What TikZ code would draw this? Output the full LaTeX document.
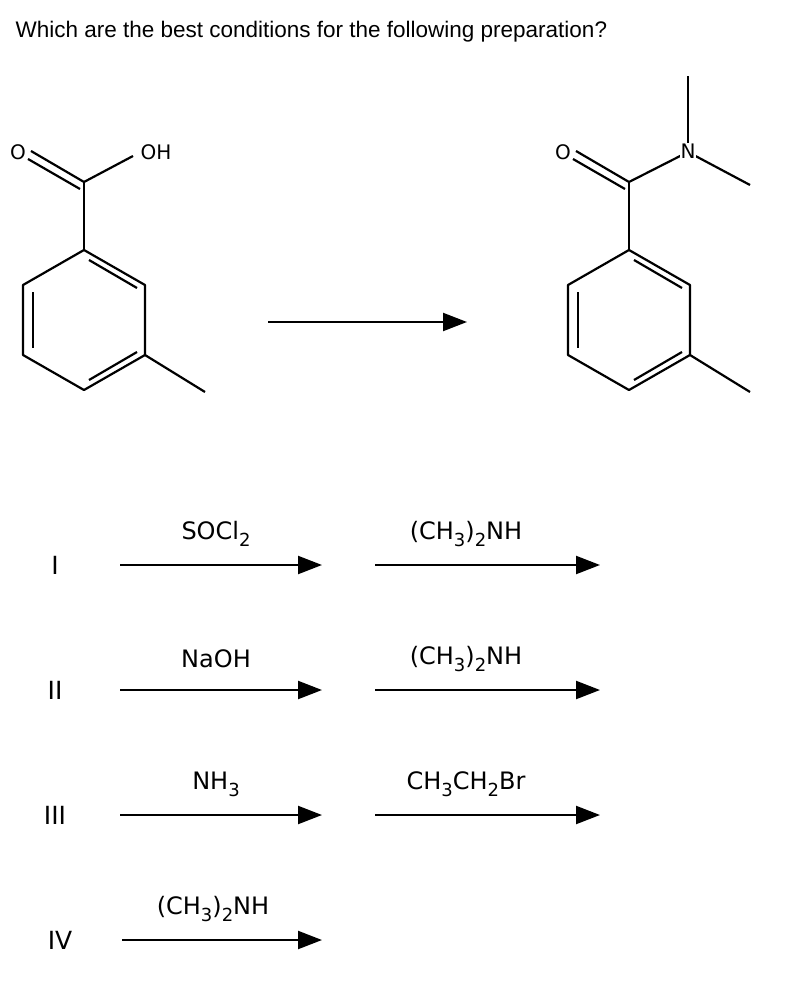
\documentclass[tikz,border=0pt]{standalone}
\usepackage{fontspec}
\setmainfont{Liberation Sans}
\newfontfamily\chem{DejaVu Sans}
\usetikzlibrary{arrows.meta}
\newcommand{\sbs}[1]{\raisebox{-0.3em}{\fontsize{18}{20}\selectfont #1}}
\begin{document}
\begin{tikzpicture}[x=1pt,y=-1pt,
  bond/.style={line width=2.2pt},
  rxn/.style={line width=2.2pt,-{Triangle[length=24pt,width=18pt]}},
  lab/.style={font=\chem\fontsize{24}{28}\selectfont,inner sep=1pt},
  atom/.style={font=\chem\fontsize{20}{24}\selectfont,inner sep=1pt,fill=white},
  num/.style={font=\chem\fontsize{25}{30}\selectfont}]
\useasboundingbox (0,0) rectangle (790,992);
\node[anchor=west,font=\fontsize{22.5}{26}\selectfont] (title) at (12,32) {Which are the best conditions for the following preparation?};
\foreach \dx/\m in {0/a,545/b}{
\begin{scope}[xshift=\dx]
\coordinate (\m1) at (84,250); \coordinate (\m2) at (145,285); \coordinate (\m3) at (145,355);
\coordinate (\m4) at (84,390); \coordinate (\m5) at (23,355); \coordinate (\m6) at (23,285);
\draw[bond,line join=round] (\m1)--(\m2)--(\m3)--(\m4)--(\m5)--(\m6)--cycle;
\draw[bond] (33,292)--(33,348);
\draw[bond] (89,260)--(137,288);
\draw[bond] (89,380)--(137,352);
\draw[bond] (\m3)--(205,392);
\coordinate (\m c) at (84,182);
\draw[bond] (\m1)--(\m c);
\end{scope}}
\draw[bond] (ac)--(31,151);
\draw[bond] (80,189)--(28,159);
\draw[bond] (ac)--(133,156);
\node[atom] (o1) at (18,152) {O};
\node[atom] (oh) at (156,152) {OH};
\draw[bond] (bc)--(576,151);
\draw[bond] (625,189)--(573,159);
\draw[bond] (bc)--(688,152);
\draw[bond] (688,152)--(688,76);
\draw[bond] (688,152)--(750,185);
\node[atom] (o2) at (563,152) {O};
\node[atom] (n) at (688,151) {N};
\draw[rxn] (268,322) coordinate (r0) -- (467,322) coordinate (r1);
\foreach \y/\r/\a/\b in {565/I/SOCl\sbs{2}/(CH\sbs{3})\sbs{2}NH,690/II/NaOH/(CH\sbs{3})\sbs{2}NH,815/III/NH\sbs{3}/CH\sbs{3}CH\sbs{2}Br}{
\node[num] (n\r) at (55,\y) {\r};
\draw[rxn] (120,\y) coordinate (s\r) -- (322,\y) coordinate (e\r);
\node[lab] (la\r) at (216,\y-31) {\a};
\draw[rxn] (375,\y) coordinate (t\r) -- (600,\y) coordinate (f\r);
\node[lab] (lb\r) at (466,\y-31) {\b};
}
\node[num] (nIV) at (60,940) {IV};
\draw[rxn] (122,940) coordinate (sIV) -- (322,940) coordinate (eIV);
\node[lab] (laIV) at (213,909) {(CH\sbs{3})\sbs{2}NH};
\end{tikzpicture}
\end{document}
